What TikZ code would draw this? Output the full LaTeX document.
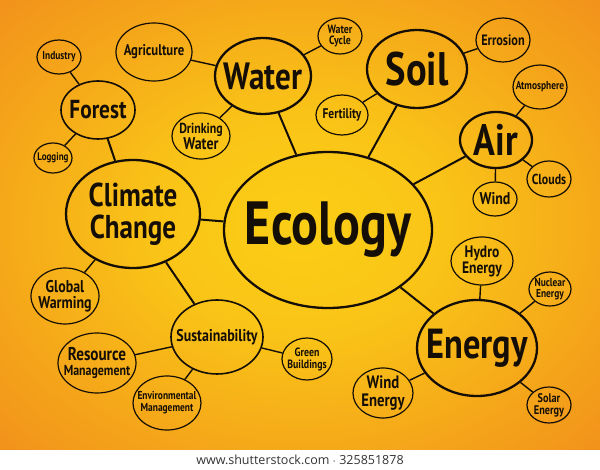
\documentclass[tikz,border=0pt]{standalone}
\usepackage{fontspec}
\setmainfont{PT Sans}[FakeStretch=0.82]
\newfontfamily\webfont{Open Sans}
\usetikzlibrary{shapes.geometric}
\definecolor{glowIn}{RGB}{251,206,22}
\definecolor{glowOut}{RGB}{241,140,28}
\definecolor{inkBlack}{RGB}{20,14,6}
\pgfdeclareradialshading{glowBack}{\pgfpoint{0bp}{0bp}}{color(0bp)=(glowIn); color(12bp)=(glowIn!85!glowOut); color(38bp)=(glowOut); color(50bp)=(glowOut)}
\newcommand{\fsz}[2]{\fontsize{#1}{#2}\selectfont\bfseries}

\begin{document}
\begin{tikzpicture}[x=1pt,y=-1pt]
%styles
\tikzstyle{bigBubble}=[ellipse, draw=inkBlack, line width=2.3pt, inner sep=-40pt, align=center, text=inkBlack]
\tikzstyle{midBubble}=[ellipse, draw=inkBlack, line width=1.6pt, inner sep=-40pt, align=center, text=inkBlack]
\tikzstyle{smallBubble}=[ellipse, draw=inkBlack, line width=1.2pt, inner sep=-40pt, align=center, text=inkBlack]
\tikzstyle{mainLink}=[draw=inkBlack, line width=2pt]
\tikzstyle{subLink}=[draw=inkBlack, line width=1.4pt]
%background
\useasboundingbox (0,0) rectangle (600,470);
\shade[shading=glowBack] (0,0) rectangle (600,450);
\fill[white] (0,450) rectangle (600,470);
\node[font=\webfont\fontsize{12.5}{13}\selectfont, text=black!80] (credit) at (300,460) {www.shutterstock.com $\cdot$ 325851878};

%main topics
\node[bigBubble, minimum width=208, minimum height=156, font=\fsz{61}{61}] (ecology) at (328,230) {Ecology};
\node[bigBubble, minimum width=96, minimum height=76, font=\fsz{38}{38}] (water) at (263,76) {Water};
\node[bigBubble, minimum width=100, minimum height=78, font=\fsz{47}{47}] (soil) at (417,69) {Soil};
\node[bigBubble, minimum width=72, minimum height=56, font=\fsz{44}{44}] (air) at (496,140) {Air};
\node[bigBubble, minimum width=120, minimum height=96, font=\fsz{42}{42}] (energy) at (477,348) {Energy};
\node[bigBubble, minimum width=134, minimum height=108, font=\fsz{33}{31.5}] (climate) at (133,214) {Climate\\Change};
\node[midBubble, minimum width=74, minimum height=58, font=\fsz{26}{26}] (forest) at (98,110) {Forest};
\node[midBubble, minimum width=92, minimum height=74, font=\fsz{17}{17}] (sustain) at (217,337) {Sustainability};

%sub topics
\node[smallBubble, minimum width=44, minimum height=34, font=\fsz{11.5}{11}] (industry) at (59,57) {Industry};
\node[smallBubble, minimum width=76, minimum height=58, font=\fsz{15.5}{15}] (agriculture) at (154,52) {Agriculture};
\node[smallBubble, minimum width=38, minimum height=30, font=\fsz{11}{10}] (logging) at (53,158) {Logging};
\node[smallBubble, minimum width=58, minimum height=46, font=\fsz{14.5}{14}] (drinking) at (201,136) {Drinking\\{\fontsize{17}{15}\selectfont Water}};
\node[smallBubble, minimum width=44, minimum height=36, font=\fsz{12}{11.5}] (cycle) at (340,36) {Water\\Cycle};
\node[smallBubble, minimum width=52, minimum height=40, font=\fsz{14}{13}] (fertility) at (342,115) {Fertility};
\node[smallBubble, minimum width=54, minimum height=44, font=\fsz{15}{14}] (errosion) at (503,40) {Errosion};
\node[smallBubble, minimum width=54, minimum height=44, font=\fsz{11.5}{11}] (atmosphere) at (540,87) {Atmosphere};
\node[smallBubble, minimum width=44, minimum height=36, font=\fsz{14.5}{14}] (clouds) at (549,179) {Clouds};
\node[smallBubble, minimum width=44, minimum height=34, font=\fsz{17}{16}] (wind) at (495,199) {Wind};
\node[smallBubble, minimum width=68, minimum height=56, font=\fsz{17}{16.5}] (warming) at (65,296) {Global\\Warming};
\node[smallBubble, minimum width=78, minimum height=60, font=\fsz{14.5}{15}] (resource) at (97,363) {{\fontsize{18.5}{16}\selectfont Resource}\\Management};
\node[smallBubble, minimum width=68, minimum height=54, font=\fsz{11.5}{12}] (envmgmt) at (167,403) {Environmental\\Management};
\node[smallBubble, minimum width=50, minimum height=42, font=\fsz{12}{12}] (green) at (307,359) {Green\\Buildings};
\node[smallBubble, minimum width=62, minimum height=48, font=\fsz{16.5}{16}] (hydro) at (482,261) {Hydro\\Energy};
\node[smallBubble, minimum width=42, minimum height=34, font=\fsz{11.5}{11}] (nuclear) at (550,289) {Nuclear\\Energy};
\node[smallBubble, minimum width=60, minimum height=50, font=\fsz{18}{17.5}] (windpower) at (383,393) {Wind\\Energy};
\node[smallBubble, minimum width=44, minimum height=36, font=\fsz{12.5}{12}] (solar) at (549,405) {Solar\\Energy};

%links
\draw[mainLink] (ecology) -- (water);
\draw[mainLink] (ecology) -- (soil);
\draw[mainLink] (ecology) -- (air);
\draw[mainLink] (ecology) -- (energy);
\draw[mainLink] (ecology) -- (climate);
\draw[mainLink] (climate) -- (sustain);
\draw[mainLink] (climate) -- (forest);

\draw[subLink] (forest) -- (industry);
\draw[subLink] (forest) -- (logging);
\draw[subLink] (water) -- (agriculture);
\draw[subLink] (water) -- (drinking);
\draw[subLink] (water) -- (cycle);
\draw[subLink] (soil) -- (fertility);
\draw[subLink] (soil) -- (errosion);
\draw[subLink] (air) -- (atmosphere);
\draw[subLink] (air) -- (clouds);
\draw[subLink] (air) -- (wind);
\draw[subLink] (climate) -- (warming);
\draw[subLink] (sustain) -- (resource);
\draw[subLink] (sustain) -- (envmgmt);
\draw[subLink] (sustain) -- (green);
\draw[subLink] (energy) -- (hydro);
\draw[subLink] (energy) -- (nuclear);
\draw[subLink] (energy) -- (windpower);
\draw[subLink] (energy) -- (solar);
\end{tikzpicture}
\end{document}
